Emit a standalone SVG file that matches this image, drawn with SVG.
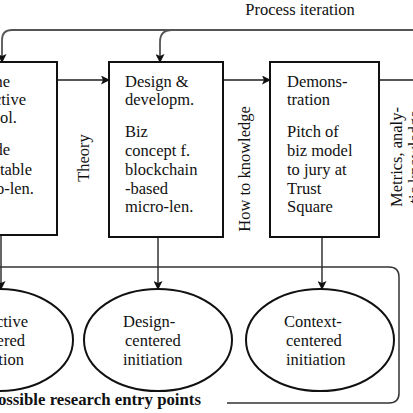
<svg xmlns="http://www.w3.org/2000/svg" width="413" height="413" viewBox="0 0 413 413">
<style>
  .t{font-family:"Liberation Serif","Times New Roman",serif;font-size:16.5px;fill:#111}
  .b{font-weight:bold;font-size:16.8px}
  .box{fill:#fff;stroke:#111;stroke-width:2}
  .ell{fill:#fff;stroke:#111;stroke-width:2}
  .ln{fill:none;stroke:#555;stroke-width:1.8}
  .dk{fill:none;stroke:#333;stroke-width:1.5}
</style>
<defs>
  <marker id="ah" markerWidth="9" markerHeight="9" refX="8" refY="4.5" orient="auto" markerUnits="userSpaceOnUse">
    <path d="M0,0 L9,4.5 L0,9 L2,4.5 Z" fill="#111"/>
  </marker>
</defs>
<rect width="413" height="413" fill="#fff"/>

<text class="t" x="300" y="15" text-anchor="middle">Process iteration</text>

<g id="connectors">
  <path class="ln" d="M413,30 H12 Q2,30 2,40 V62" marker-end="url(#ah)"/>
  <path class="ln" d="M172,30 Q160,30 160,42 V62" marker-end="url(#ah)"/>
  <path class="ln" d="M57,80 H109" marker-end="url(#ah)"/>
  <path class="ln" d="M223,80 H270" marker-end="url(#ah)"/>
  <path class="ln" d="M379,80 H413"/>
  <path class="dk" d="M1,235 V289" marker-end="url(#ah)"/>
  <path class="dk" d="M158,237 V289" marker-end="url(#ah)"/>
  <path class="dk" d="M322,237 V289" marker-end="url(#ah)"/>
  <path class="dk" d="M-5,267 H389 Q399,267 399,277 V393 Q399,403 389,403 H227"/>
</g>

<g id="node-objective">
  <rect class="box" x="-57" y="62" width="114" height="173"/>
  <text class="t" x="10" y="87" text-anchor="end">Define</text>
  <text class="t" x="26" y="105" text-anchor="end">objective</text>
  <text class="t" x="17" y="123" text-anchor="end">sol.</text>
  <text class="t" x="10" y="155" text-anchor="end">Provide</text>
  <text class="t" x="32" y="175" text-anchor="end">suitable</text>
  <text class="t" x="34" y="194" text-anchor="end">micro-len.</text>
</g>

<g id="label-theory">
  <text class="t" transform="translate(89,158) rotate(-90)" text-anchor="middle">Theory</text>
</g>

<g id="node-design">
  <rect class="box" x="109" y="62" width="114" height="175"/>
  <text class="t" x="125" y="87">Design &amp;</text>
  <text class="t" x="125" y="105">developm.</text>
  <text class="t" x="125" y="137">Biz</text>
  <text class="t" x="125" y="156">concept f.</text>
  <text class="t" x="125" y="175">blockchain</text>
  <text class="t" x="125" y="194">-based</text>
  <text class="t" x="125" y="212">micro-len.</text>
</g>

<g id="label-howto">
  <text class="t" transform="translate(250,169) rotate(-90)" text-anchor="middle">How to knowledge</text>
</g>

<g id="node-demonstration">
  <rect class="box" x="270" y="62" width="109" height="175"/>
  <text class="t" x="287" y="87">Demons-</text>
  <text class="t" x="287" y="105">tration</text>
  <text class="t" x="287" y="137">Pitch of</text>
  <text class="t" x="287" y="156">biz model</text>
  <text class="t" x="287" y="175">to jury at</text>
  <text class="t" x="287" y="194">Trust</text>
  <text class="t" x="287" y="212">Square</text>
</g>

<g id="label-metrics">
  <text class="t" transform="translate(402,157) rotate(-90)" text-anchor="middle">Metrics, analy-</text>
  <text class="t" transform="translate(420,157) rotate(-90)" text-anchor="middle">tic knowledge</text>
</g>

<g id="node-objective-init">
  <ellipse class="ell" cx="-1" cy="340" rx="74" ry="51"/>
  <text class="t" x="28" y="327" text-anchor="end">Objective</text>
  <text class="t" x="25" y="346" text-anchor="end">centered</text>
  <text class="t" x="24" y="365" text-anchor="end">initiation</text>
</g>

<g id="node-design-init">
  <ellipse class="ell" cx="158" cy="340" rx="74" ry="51"/>
  <text class="t" x="123" y="327">Design-</text>
  <text class="t" x="125" y="346">centered</text>
  <text class="t" x="123" y="365">initiation</text>
</g>

<g id="node-context-init">
  <ellipse class="ell" cx="320" cy="340" rx="74" ry="51"/>
  <text class="t" x="284" y="327">Context-</text>
  <text class="t" x="286" y="346">centered</text>
  <text class="t" x="286" y="365">initiation</text>
</g>

<text class="t b" x="201" y="405" text-anchor="end">Possible research entry points</text>
</svg>
